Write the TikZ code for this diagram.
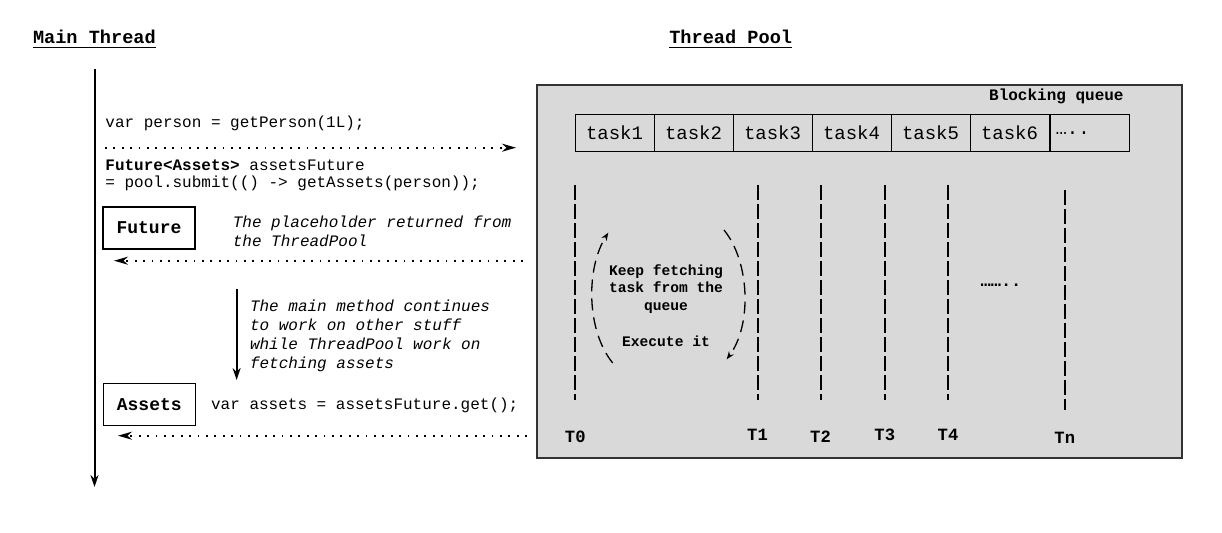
\documentclass[tikz,border=0pt]{standalone}
\usepackage{fontspec}
\setmonofont{Liberation Mono}
\usetikzlibrary{arrows.meta,positioning}
\definecolor{poolgray}{RGB}{217,217,217}

\begin{document}
\begin{tikzpicture}[x=0.5pt, y=-0.5pt,
    title/.style={font=\ttfamily\bfseries\fontsize{9.3}{11}\selectfont, inner sep=0pt},
    code/.style={font=\ttfamily\fontsize{8}{10}\selectfont, inner sep=0pt, anchor=west},
    note/.style={font=\ttfamily\itshape\fontsize{8}{9.5}\selectfont, inner sep=0pt, anchor=west, align=left},
    resbox/.style={draw, line width=0.75pt, minimum width=46pt, minimum height=21pt, inner sep=0pt,
      font=\ttfamily\bfseries\fontsize{9}{11}\selectfont},
    cell/.style={draw, line width=0.5pt, minimum width=39.5pt, minimum height=18.35pt, inner sep=0pt,
      font=\ttfamily\fontsize{9.5}{11}\selectfont},
    loop/.style={font=\ttfamily\bfseries\fontsize{7.3}{8.9}\selectfont, inner sep=0pt, align=center},
    tlabel/.style={font=\ttfamily\bfseries\fontsize{8.6}{10}\selectfont, inner sep=0pt},
    callarrow/.style={line width=0.9pt, dash pattern=on 0.9pt off 3.3pt, -{Stealth[length=7pt,width=4pt]}},
    thread/.style={line width=1pt, dash pattern=on 7.5pt off 2pt},
    cycle/.style={line width=0.65pt, dash pattern=on 6pt off 3.5pt, -{Stealth[length=4pt,width=3pt]}}
  ]
  \useasboundingbox (0,0) rectangle (1222,533);

  % titles
  \node[title] (mainTitle) at (94.4,39.3) {\underline{Main Thread}};
  \node[title] (poolTitle) at (730.7,39.3) {\underline{Thread Pool}};

  % main thread
  \coordinate (mainTop) at (94.5,69);
  \coordinate (mainEnd) at (94.5,487);
  \draw[line width=1pt, -{Stealth[length=6pt,width=4pt]}] (mainTop) -- (mainEnd);

  \node[code] (getPerson) at (105,123) {var person = getPerson(1L);};
  \node[code] (futureDecl) at (105,165) {\textbf{Future<Assets>} assetsFuture};
  \node[code] (submitCall) at (105,183.3) {= pool.submit(() -> getAssets(person));};

  \node[resbox] (future) at (149,228) {Future};
  \node[note] (placeholder) at (232.4,231) {The placeholder returned from\\the ThreadPool};

  \coordinate (continueTop) at (236.6,289);
  \coordinate (continueEnd) at (236.6,380);
  \draw[line width=1pt, -{Stealth[length=6pt,width=4pt]}] (continueTop) -- (continueEnd);
  \node[note] (continueNote) at (249.6,335.5) {The main method continues\\to work on other stuff\\while ThreadPool work on\\fetching assets};

  \node[resbox] (assets) at (149.3,404.5) {Assets};
  \node[code] (getCall) at (210.7,405) {var assets = assetsFuture.get();};

  % thread pool
  \node[draw=black!80, fill=poolgray, line width=1.3pt, minimum width=322.5pt, minimum height=186.5pt,
    inner sep=0pt] (pool) at (859.5,271.5) {};
  \node[font=\ttfamily\bfseries\fontsize{8}{10}\selectfont, inner sep=0pt, anchor=east] (queueTitle)
    at (1124,96) {Blocking queue};

  \foreach \i in {1,...,6}
    \node[cell] (task\i) at ({575+79*(\i-0.5)},132.7) {task\i};
  \node[cell, right=0pt of task6, text width=34pt, align=left, inner xsep=2.75pt] (taskMore) {…..};

  \foreach \x/\n/\top/\bot/\ly in {575.3/0/185/400/436.7, 757.5/1/185/400/435, 820.5/2/185/400/436.7,
      884.8/3/185/400/435, 948/4/185/400/435, 1064.8/n/190/410/437.7} {
    \coordinate (T\n top) at (\x,\top);
    \coordinate (T\n bot) at (\x,\bot);
    \draw[thread] (T\n top) -- (T\n bot);
    \node[tlabel] (T\n) at (\x,\ly) {T\n};
  }
  \node[font=\ttfamily\bfseries\fontsize{8.5}{10}\selectfont, inner sep=0pt] (threadDots) at (1001,285.7) {……..};

  % fetch / execute loop
  \node[loop] (fetchNote) at (666,289) {Keep fetching\\task from the\\queue};
  \node[loop] (execNote) at (666,341) {Execute it};
  \coordinate (loopLB) at (612.7,363);
  \coordinate (loopLT) at (608.3,232.7);
  \coordinate (loopRT) at (724,230);
  \coordinate (loopRB) at (726.7,359.3);
  \draw[cycle] (loopLB) .. controls (586,330) and (586,268) .. (loopLT);
  \draw[cycle] (loopRT) .. controls (750,262) and (752,325) .. (loopRB);

  % calls between threads
  \coordinate (submitFrom) at (105,147.7);
  \coordinate (submitTo) at (516,147.7);
  \draw[callarrow] (submitFrom) -- (submitTo);
  \coordinate (futureFrom) at (523,260.7);
  \coordinate (futureTo) at (114,260.7);
  \draw[callarrow] (futureFrom) -- (futureTo);
  \coordinate (assetsFrom) at (527,435.7);
  \coordinate (assetsTo) at (118,435.7);
  \draw[callarrow] (assetsFrom) -- (assetsTo);
\end{tikzpicture}
\end{document}
